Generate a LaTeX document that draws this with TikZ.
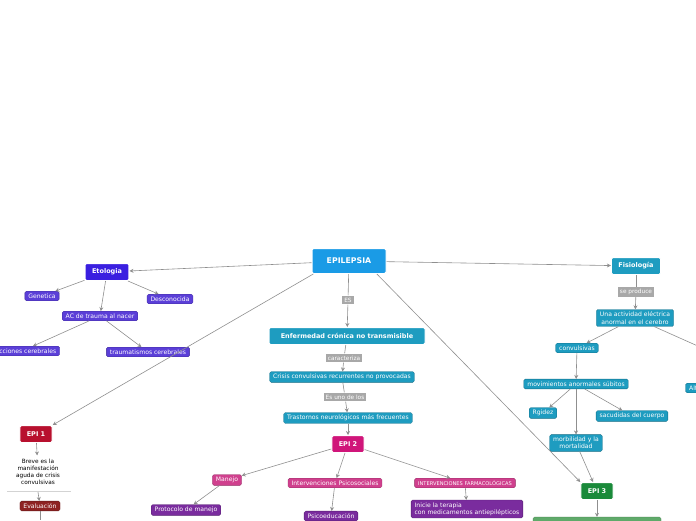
\documentclass[tikz,border=0pt]{standalone}
\usepackage{fontspec}
\setmainfont{DejaVu Sans}
\usetikzlibrary{arrows.meta}
\definecolor{cblue}{HTML}{1A9BE6}
\definecolor{cind}{HTML}{3A1FE0}
\definecolor{cvio}{HTML}{5B3FD8}
\definecolor{cteal}{HTML}{1E9CC0}
\definecolor{cgrey}{HTML}{A8A8A8}
\definecolor{cred}{HTML}{B8102E}
\definecolor{cdred}{HTML}{8E2222}
\definecolor{cmag}{HTML}{D0157A}
\definecolor{cpink}{HTML}{D0408E}
\definecolor{cpur}{HTML}{7A2C9E}
\definecolor{cgreen}{HTML}{1A8A3A}
\definecolor{clgreen}{HTML}{5FAA6A}
\tikzset{
 bx/.style={rounded corners=1.5pt,text=white,font=\fontsize{6.1}{7.2}\selectfont,inner xsep=3.5pt,inner ysep=2.4pt,align=center,fill=#1,draw=#1!70!black,line width=0.3pt},
 big/.style={bx=#1,font=\fontsize{6.5}{7.5}\selectfont\bfseries,draw=white,line width=1pt,minimum height=17pt,inner xsep=7pt},
 lab/.style={fill=cgrey,text=white,font=\fontsize{5.8}{6.8}\selectfont,inner sep=2.2pt},
 ar/.style={draw=cgrey!85!black,line width=0.6pt,-{Stealth[length=4pt,width=4pt]}},
 ln/.style={draw=cgrey!85!black,line width=0.6pt}
}
\begin{document}
\begin{tikzpicture}[x=1pt,y=-1pt]
\useasboundingbox (0,0) rectangle (696,520);
\clip (0,0) rectangle (696,520);
\node[big=cblue,minimum width=74pt,minimum height=25pt,font=\fontsize{7.8}{8.5}\selectfont\bfseries] (epi) at (349,261) {EPILEPSIA};
\node[big=cind] (eto) at (107,272) {Etologia};
\node[bx=cvio] (gen) at (42,296) {Genetica};
\node[bx=cvio] (des) at (170,299) {Desconocida};
\node[bx=cvio] (ac) at (100,316) {AC de trauma al nacer};
\node[bx=cvio] (inf) at (22,351) {Infecciones cerebrales};
\node[bx=cvio] (tra) at (148,352) {traumatismos cerebrales};
\node[big=cred] (e1) at (36,434) {EPI 1};
\node[font=\fontsize{5.8}{7.2}\selectfont,align=center] (bre) at (38,472) {Breve es la\\manifestación\\aguda de crisis\\convulsivas};
\draw[cgrey!50,line width=0.8pt] (7,491) -- (71,491);
\node[bx=cdred] (eva) at (40,506) {Evaluación};
\coordinate (evd) at (40,520);
\node[lab] (es) at (348,300) {ES};
\node[big=cteal,minimum width=156pt] (enf) at (347,336) {Enfermedad crónica no transmisible};
\node[lab] (car) at (344,358) {caracteriza};
\node[bx=cteal] (cri) at (342,377) {Crisis convulsivas recurrentes no provocadas};
\node[lab] (uno) at (345,397) {Es uno de los};
\node[bx=cteal] (tras) at (348,418) {Trastornos neurológicos más frecuentes};
\node[big=cmag] (e2) at (348,444) {EPI 2};
\node[bx=cpink] (man) at (227,480) {Manejo};
\node[bx=cpink] (psi) at (335,483) {Intervenciones Psicosociales};
\node[bx=cpink,font=\fontsize{5.1}{6}\selectfont] (far) at (465,483) {INTERVENCIONES FARMACOLÓGICAS};
\node[bx=cpur] (pro) at (186,510) {Protocolo de manejo};
\node[bx=cpur] (pse) at (331,516) {Psicoeducación};
\node[bx=cpur,align=left] (ini) at (467,509) {Inicie la terapia\\con medicamentos antiepilépticos};
\node[big=cteal] (fis) at (636,266) {Fisiología};
\node[lab] (sep) at (636,292) {se produce};
\node[bx=cteal] (una) at (635,318) {Una actividad eléctrica\\anormal en el cerebro};
\node[bx=cteal] (con) at (577,348) {convulsivas};
\node[bx=cteal] (mov) at (576,384) {movimientos anormales súbitos};
\node[bx=cteal] (rig) at (543,413) {Rgidez};
\node[bx=cteal] (sac) at (632,416) {sacudidas del cuerpo};
\node[bx=cteal] (mor) at (576,443) {morbilidad y la\\mortalidad};
\node[bx=cteal] (alt) at (708,388) {Alteraciones};
\node[big=cgreen] (e3) at (597,491) {EPI 3};
\node[bx=clgreen,minimum width=128pt,minimum height=10pt] (exa) at (597,522) {};
\coordinate (unr) at (700,347);
% edges
\draw[ar] (epi) -- (eto);
\draw[ar] (epi) -- (fis);
\draw[ar] (epi.200) -- (e1.north east);
\draw[ar] (epi.-25) -- (e3.north west);
\draw[ar] (eto) -- (gen);
\draw[ar] (eto) -- (des);
\draw[ar] (eto) -- (ac);
\draw[ar] (ac) -- (inf);
\draw[ar] (ac) -- (tra);
\draw[ar] (e1) -- (bre);
\draw[ar] (bre.south |- 0,492) -- (eva);
\draw[ln] (eva) -- (evd);
\draw[ln] (epi) -- (es);
\draw[ar] (es) -- (enf);
\draw[ln] (enf) -- (car);
\draw[ar] (car) -- (cri);
\draw[ln] (cri) -- (uno);
\draw[ar] (uno) -- (tras);
\draw[ar] (tras) -- (e2);
\draw[ar] (e2) -- (man);
\draw[ar] (e2) -- (psi);
\draw[ar] (e2) -- (far);
\draw[ar] (man) -- (pro);
\draw[ar] (psi) -- (pse);
\draw[ar] (far) -- (ini);
\draw[ln] (fis) -- (sep);
\draw[ar] (sep) -- (una);
\draw[ar] (una) -- (con);
\draw[ln] (una) -- (unr);
\draw[ar] (con) -- (mov);
\draw[ar] (mov) -- (rig);
\draw[ar] (mov) -- (sac);
\draw[ar] (mov) -- (mor);
\draw[ar] (mor) -- (e3);
\draw[ar] (e3) -- (exa);
\end{tikzpicture}
\end{document}
